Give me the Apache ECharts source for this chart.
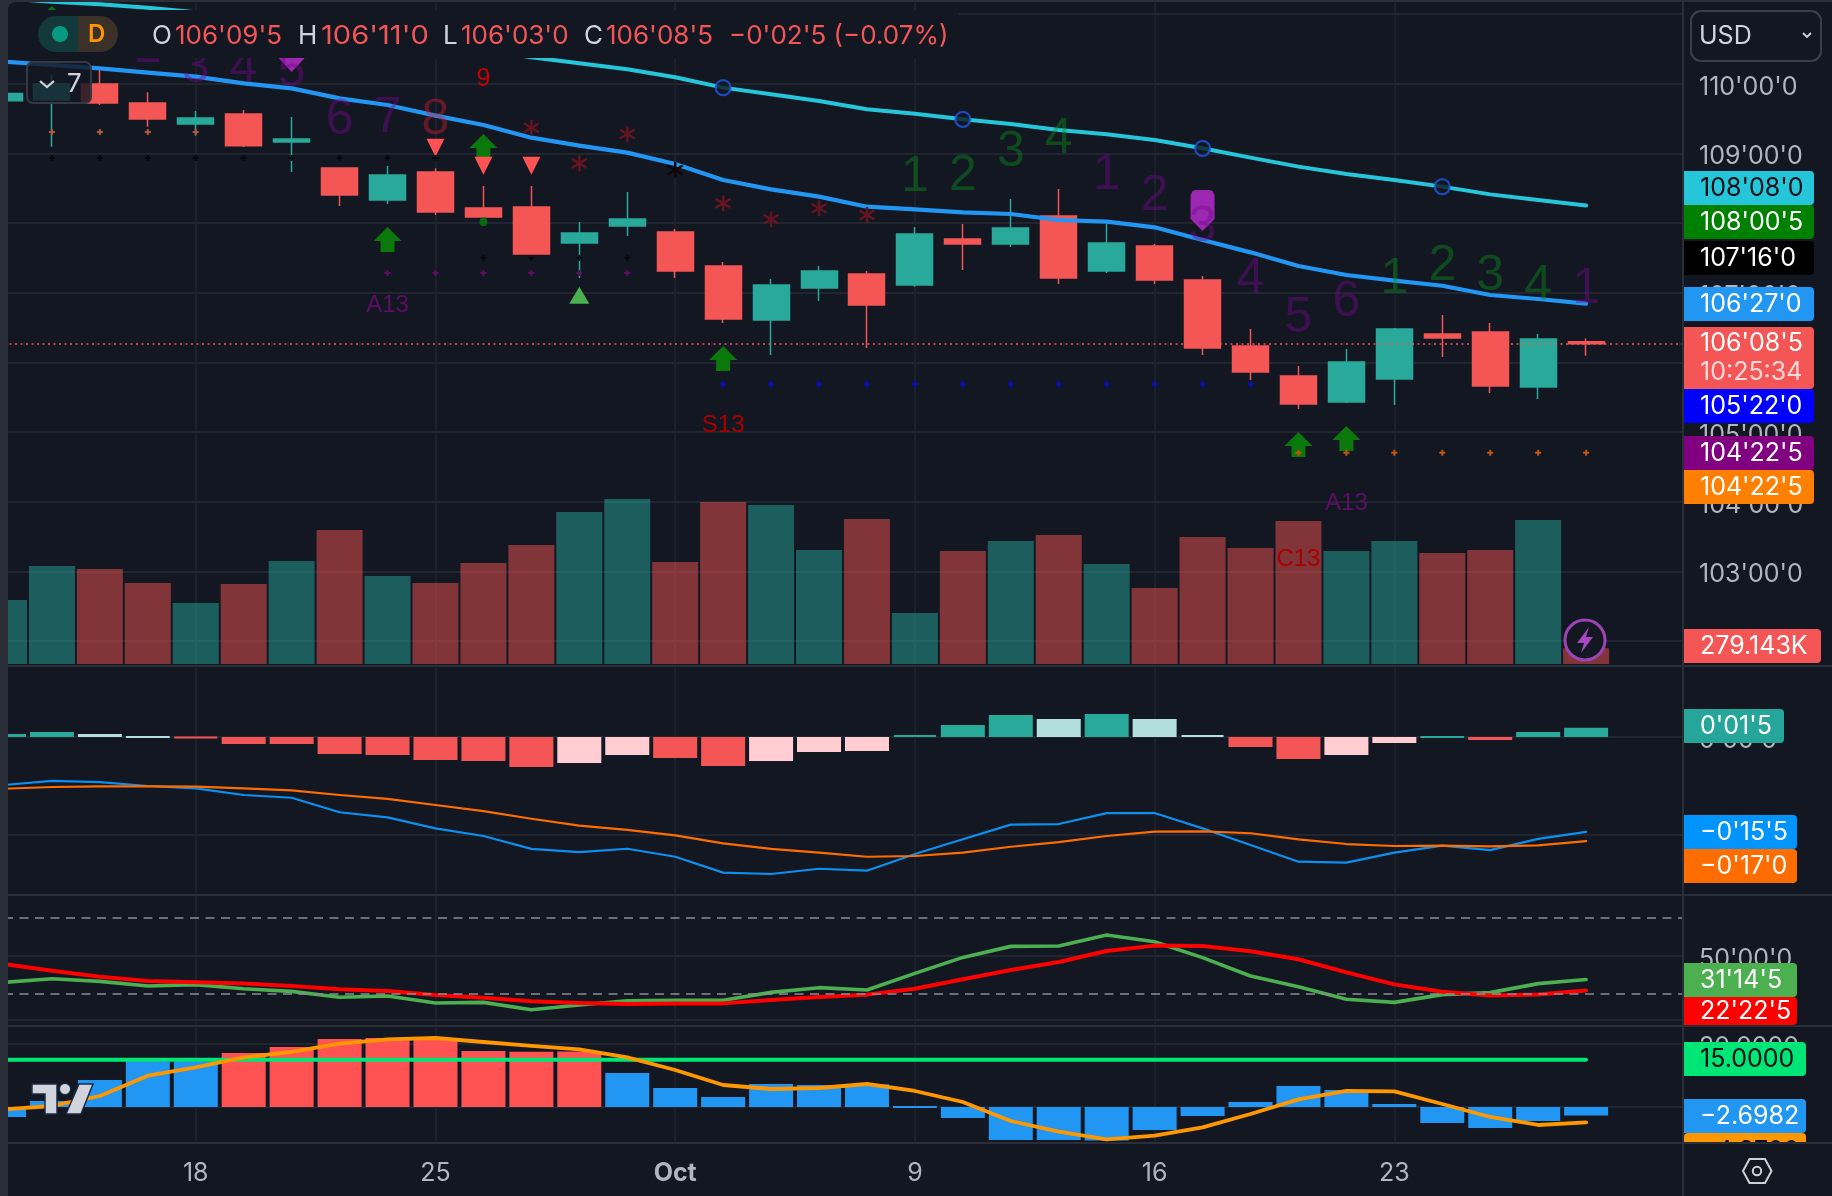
<!DOCTYPE html>
<html>
<head>
<meta charset="utf-8">
<title>Daily futures chart</title>
<style>
html,body{margin:0;padding:0;background:#121722;}
#chart{width:1832px;height:1196px;}
</style>
<script src="https://cdn.jsdelivr.net/npm/echarts@6/dist/echarts.min.js"></script>
</head>
<body>
<div id="chart"></div>
<script>
// Trading days, two blank slots keep room to the right of the last bar
const categories = ['Sep 12','Sep 13','Sep 14','Sep 15','Sep 18','Sep 19','Sep 20','Sep 21','Sep 22','Sep 25','Sep 26','Sep 27','Sep 28','Sep 29','Oct 2','Oct 3','Oct 4','Oct 5','Oct 6','Oct 9','Oct 10','Oct 11','Oct 12','Oct 13','Oct 16','Oct 17','Oct 18','Oct 19','Oct 20','Oct 23','Oct 24','Oct 25','Oct 26','Oct 27','Oct 30','Oct 31'];
const weekStarts = {'Sep 18':'18','Sep 25':'25','Oct 2':'Oct','Oct 9':'9','Oct 16':'16','Oct 23':'23'};

// OHLC
const opens = [109.756,109.766,109.995,109.722,109.421,109.565,109.163,108.789,108.33,108.732,108.215,108.23,107.713,107.957,107.871,107.383,106.608,107.067,107.268,107.11,107.77,107.699,108.1,107.311,107.67,107.182,106.234,105.804,105.431,105.761,106.407,106.435,105.646,106.297];
const highs = [109.9,110.12,110.22,109.876,109.608,109.622,109.522,108.8,108.818,108.785,108.531,108.531,108.014,108.445,107.914,107.44,107.196,107.383,107.311,107.943,107.986,108.344,108.488,107.986,107.699,107.239,106.478,105.947,106.191,106.493,106.679,106.565,106.407,106.344];
const lows = [109.7,109.096,109.694,109.383,109.254,109.091,108.732,108.244,108.273,108.115,108.005,107.483,107.211,107.813,107.211,106.565,106.105,106.88,106.206,107.086,107.325,107.656,107.124,107.282,107.124,106.105,105.746,105.33,105.416,105.388,106.077,105.56,105.474,106.094];
const closes = [109.86,110,109.722,109.493,109.507,109.11,109.206,108.402,108.689,108.158,108.086,107.555,107.856,108.057,107.311,106.622,107.11,107.311,106.823,107.842,107.699,107.928,107.211,107.713,107.182,106.206,105.861,105.402,106.005,106.478,106.349,105.66,106.335,106.266];

// Moving averages
const maUpper = [111.225,111.177,111.139,111.091,111.024,110.938,110.856,110.77,110.684,110.589,110.483,110.378,110.292,110.206,110.091,109.943,109.847,109.751,109.632,109.569,109.488,109.421,109.335,109.273,109.191,109.072,108.938,108.809,108.703,108.617,108.522,108.411,108.33,108.25];
const maLower = [110.316,110.268,110.22,110.158,110.1,110.005,109.933,109.789,109.694,109.541,109.407,109.225,109.11,109.01,108.847,108.617,108.483,108.378,108.234,108.196,108.153,108.129,108.043,108.019,107.938,107.756,107.579,107.383,107.254,107.172,107.1,106.967,106.909,106.844];
const maUpperCircles = [15,20,25,30];

// Volume, thousands
const volume = [1140,1746,1693,1443,1087,1426,1835,2388,1568,1443,1800,2121,2709,2940,1818,2887,2833,2031,2584,909,2014,2192,2299,1782,1354,2263,2067,2548,2014,2192,1978,2031,2566,279.143];

// MACD
const macdHist = [.015,.026,.015,.001,-.005,-.036,-.036,-.087,-.092,-.117,-.122,-.153,-.133,-.092,-.107,-.148,-.122,-.077,-.071,.01,.061,.112,.092,.117,.092,.01,-.051,-.112,-.092,-.031,.001,-.015,.026,.047];
const macdShade = 'TTttRRRRRRRRppRRpppTTTtTttRRppTRTT';
const macdLine = [-.245,-.224,-.23,-.25,-.262,-.296,-.31,-.384,-.41,-.466,-.505,-.571,-.587,-.57,-.611,-.692,-.699,-.672,-.682,-.597,-.522,-.447,-.444,-.388,-.388,-.466,-.551,-.636,-.641,-.59,-.554,-.577,-.52,-.484];
const macdSignal = [-.264,-.255,-.252,-.252,-.253,-.262,-.272,-.296,-.316,-.347,-.378,-.417,-.452,-.474,-.502,-.543,-.571,-.59,-.611,-.607,-.59,-.56,-.536,-.505,-.483,-.481,-.491,-.522,-.546,-.556,-.554,-.558,-.553,-.531];

// Stochastic
const stochK = [29.2,32.1,30,26.3,27.4,24.2,22.1,17.4,18.4,12.9,13.4,7.6,11.3,14.7,15,15,21.3,25,23.2,36.3,48.9,57.6,57.9,66.6,61.3,48.7,34.2,25.8,15.8,13.4,19.5,21.1,28.2,31.45];
const stochD = [43.7,38.4,33.7,30.3,29.2,28.2,26.3,23.7,22.4,19.2,17.1,14.2,12.9,12.1,12.6,12.6,15.3,17.6,19.5,24.2,31.6,38.9,45.3,53.9,58.2,57.9,53.7,47.4,37.1,27.6,21.8,18.9,19.7,22.703];
const stochBands = [80,20];

// Squeeze-style momentum pane
const momentumHist = [-3.17,1.9,8.57,14.5,14.5,17.1,19.05,21.6,21.9,21.9,17.8,17.5,17.6,10.8,6.03,3.17,7.3,7,7.2,.05,-3.49,-10.48,-10.5,-10.6,-7.3,-2.86,1.59,6.67,5.4,.95,-5.08,-6.67,-4.44,-2.6982];
const momentumLine = [-.74,.32,3.49,9.95,12.59,15.77,17.46,20.11,21.48,21.9,20.63,19.37,18.31,15.77,11.75,6.98,5.71,6.03,7.3,5.08,1.59,-4.44,-7.83,-10.26,-9.1,-6.46,-2.22,2.43,5.08,4.97,.95,-3.17,-5.71,-4.87];
const momentumLevel = 15;

// Axis ticks
const priceTicks = [111,110,109,108,107,106,105,104,103,102];
const priceLabelTicks = [110,109,108,107,106,105,104,103,102];
const macdTicks = [0,-.5];
const stochTicks = [50,0];
const stochLabelTicks = [50];
const momentumTicks = [20,0];

// Sequential count digits: [bar, price, digit]
const seqPurple = [[3,110.531,'2'],[4,110.244,'3'],[5,110.244,'4'],[6,110.196,'5'],[7,109.502,'6'],[8,109.536,'7'],[23,108.708,'1'],[24,108.416,'2'],[25,107.962,'3'],[26,107.215,'4'],[27,106.665,'5'],[28,106.885,'6'],[33,107.072,'1']];
const seqGreen = [[19,108.679,'1'],[20,108.703,'2'],[21,109.048,'3'],[22,109.225,'4'],[29,107.215,'1'],[30,107.411,'2'],[31,107.263,'3'],[32,107.12,'4']];
const seqDarkRed = [[9,109.502,'8']];
const seqNine = [[10,110.091,'9']];
const starsRed = [[11,109.368],[12,108.856],[13,109.278],[15,108.282],[16,108.053],[17,108.211],[18,108.115]];
const starsBlack = [[14,108.761]];
const countdownPurple = [[8,106.852,'A13'],[28,104,'A13']];
const countdownRed = [[15,105.124,'S13'],[27,103.2,'C13']];

// Signal markers: [bar, price]
const arrowsUp = [[1,110.928],[8,107.756],[10,109.091],[15,106.048],[27,104.813],[28,104.9]];
const trianglesDown = [[9,109.081],[10,108.823],[11,108.823]];
const triangleUp = [[12,106.957]];
const triangleDownPurple = [[6,110.268]];
const dotGreen = [[10,108.019]];
const flagPurple = [[25,107.885]];

// Stop-level dots: [bar, price]
const dotsOrangeHigh = [[1,109.306],[2,109.306],[3,109.306],[4,109.306]];
const dotsBlackHigh = [1,2,3,4,5,6,7,8,9].map(function(i){return [i,108.933];});
const dotsBlackLow = [10,11,12,13].map(function(i){return [i,107.5];});
const dotsPurple = [8,9,10,11,12,13].map(function(i){return [i,107.282];});
const dotsBlue = [15,16,17,18,19,20,21,22,23,24,25,26].map(function(i){return [i,105.6875];});
const dotsOrangeLow = [27,28,29,30,31,32,33].map(function(i){return [i,104.703];});

// Last price
const lastPrice = 106.266;

const BG = '#121722', GRID = '#21252f', EDGE = '#2a2e39', UP = '#29a99a', DOWN = '#f45656';
const UI = 'Inter, "Noto Sans", sans-serif', NUM = '"Liberation Sans", Arial, sans-serif';
const SCALE_SIZE = 25, HEAD_SIZE = 26;

function price32(v){
  const sign = v < 0 ? '\u2212' : '';
  const a = Math.abs(v) + 1e-9, whole = Math.floor(a), t = (a - whole) * 32;
  const n = Math.floor(t), d = Math.floor((t - n) * 10);
  return sign + whole + "'" + String(n).padStart(2,'0') + "'" + d;
}

// Pane layout
const left = 4, width = 1678;
const grids = [
  {left:left, width:width, top:2, height:664},
  {left:left, width:width, top:464, height:200},
  {left:left, width:width, top:667, height:228},
  {left:left, width:width, top:895, height:131},
  {left:left, width:width, top:1026, height:117}
];

function xAxis(i, labelled){
  return {
    type:'category', gridIndex:i, data:categories, boundaryGap:false,
    axisLine:{show:false}, axisTick:{show:false},
    splitLine:{show:i !== 1, lineStyle:{color:GRID, width:1.5},
      interval:function(idx, value){ return value in weekStarts; }},
    axisLabel:{show:labelled, interval:function(idx, value){ return value in weekStarts; },
      margin:18, fontFamily:UI, fontSize:SCALE_SIZE, color:'#b2b5be',
      formatter:function(value){ const t = weekStarts[value]; return t === 'Oct' ? '{b|Oct}' : t; },
      rich:{b:{fontFamily:UI, fontSize:SCALE_SIZE, fontWeight:700, color:'#b2b5be'}}}
  };
}

function yAxis(i, min, max, ticks, labels, fmt){
  return {
    type:'value', gridIndex:i, position:'right', min:min, max:max, scale:true,
    axisLine:{show:false},
    axisTick:{show:false, customValues:ticks},
    splitLine:{show:true, lineStyle:{color:GRID, width:2}},
    axisLabel:{show:!!labels, customValues:labels || [], margin:17,
      formatter:function(v){ return '{a|' + fmt(v) + '}'; },
      rich:{a:{padding:[7,0,0,0], fontFamily:UI, fontSize:SCALE_SIZE, color:'#b2b5be'}},
      fontFamily:UI, fontSize:SCALE_SIZE, color:'#b2b5be', showMinLabel:true, showMaxLabel:true}
  };
}

function lineSeries(name, data, color, w, xi, z){
  return {name:name, type:'line', data:data, xAxisIndex:xi, yAxisIndex:xi, symbol:'none', silent:true,
    lineStyle:{color:color, width:w, cap:'round', join:'round'}, z:z, animation:false};
}

function customSeries(name, data, z, draw){
  return {name:name, type:'custom', data:data, encode:{x:0, y:1}, xAxisIndex:0, yAxisIndex:0,
    silent:true, z:z, animation:false,
    renderItem:function(params, api){
      return draw(api.coord([data[params.dataIndex][0], data[params.dataIndex][1]]), data[params.dataIndex]);
    }};
}

function textMarks(name, data, color, size, z, dy){
  return customSeries(name, data, z, function(p, row){
    return {type:'text', style:{text:row[2], x:p[0], y:p[1] + (dy === undefined ? 2 : dy), align:'center', verticalAlign:'middle',
      fill:color, fontFamily:NUM, fontSize:size}};
  });
}

function starMarks(name, data, color){
  const arms = [[0,-8,0,8],[-7.5,-4.5,7.5,4.5],[-7.5,4.5,7.5,-4.5]];
  return customSeries(name, data, 5, function(p){
    return {type:'group', children:arms.map(function(a){
      return {type:'line', shape:{x1:p[0]+a[0], y1:p[1]+a[1], x2:p[0]+a[2], y2:p[1]+a[3]}, style:{stroke:color, lineWidth:2.4}};
    })};
  });
}

function polyMarks(name, data, color, pts, z){
  return customSeries(name, data, z, function(p){
    return {type:'polygon', shape:{points:pts.map(function(q){ return [p[0] + q[0], p[1] + q[1]]; })}, style:{fill:color}};
  });
}

function dotMarks(name, data, color){
  return customSeries(name, data, 5, function(p){
    return {type:'group', children:[
      {type:'line', shape:{x1:p[0]-3, y1:p[1], x2:p[0]+3, y2:p[1]}, style:{stroke:color, lineWidth:2}},
      {type:'line', shape:{x1:p[0], y1:p[1]-3, x2:p[0], y2:p[1]+3}, style:{stroke:color, lineWidth:2}}
    ]};
  });
}

const arrowShape = [[0,-13],[14,1],[7,1],[7,12],[-7,12],[-7,1],[-14,1]];
const flagShape = [[-12,-36],[-10,-40],[-7,-41],[7,-41],[10,-40],[12,-36],[12,-12],[0,0],[-12,-12]];
const shadeColor = {T:'#29a99a', t:'#b2dfdb', R:'#f45656', p:'#ffcdd2'};

const series = [
  {name:'Volume', type:'bar', xAxisIndex:1, yAxisIndex:1, barWidth:46, z:1, silent:true, animation:false,
    data:volume.map(function(v,i){ return {value:v, itemStyle:{color:closes[i] >= opens[i] ? 'rgba(38,166,154,0.5)' : 'rgba(239,83,80,0.5)'}}; })},
  {name:'Price', type:'candlestick', xAxisIndex:0, yAxisIndex:0, barWidth:36.5, z:3, silent:true, animation:false,
    data:opens.map(function(o,i){ return [o, closes[i], lows[i], highs[i]]; }),
    itemStyle:{color:UP, color0:DOWN, borderColor:UP, borderColor0:DOWN, borderWidth:1.5},
    markLine:{silent:true, symbol:['none','none'], animation:false, label:{show:false},
      lineStyle:{color:DOWN, type:[2,3.5], width:1.6}, data:[{yAxis:lastPrice}]}},
  lineSeries('Upper average', maUpper, '#26c6da', 4, 0, 4),
  lineSeries('Lower average', maLower, '#2196f3', 4.2, 0, 4),
  {name:'Upper average rolls', type:'scatter', xAxisIndex:0, yAxisIndex:0, silent:true, z:5, animation:false, symbolSize:15,
    data:maUpperCircles.map(function(i){ return [i, maUpper[i]]; }),
    itemStyle:{color:BG, borderColor:'#2156e6', borderWidth:2.2}},
  polyMarks('Flag', flagPurple, '#9c27b0', flagShape, 5),
  textMarks('Count purple', seqPurple, 'rgba(118,9,141,0.43)', 50, 6),
  textMarks('Count green', seqGreen, 'rgba(11,141,28,0.43)', 50, 6),
  textMarks('Count red', seqDarkRed, 'rgba(207,28,53,0.43)', 50, 6),
  textMarks('Nine', seqNine, '#c40000', 25, 5),
  textMarks('A13', countdownPurple, '#5d0f66', 24, 5),
  textMarks('S13 and C13', countdownRed, '#a80000', 24, 5),
  starMarks('Stars', starsRed, '#651420'),
  starMarks('Black star', starsBlack, '#140606'),
  polyMarks('Arrows', arrowsUp, '#0a780a', arrowShape, 5),
  polyMarks('Down triangles', trianglesDown, '#ff5252', [[-9,-9],[9,-9],[0,9]], 5),
  polyMarks('Up triangle', triangleUp, '#4caf50', [[0,-9],[10,8],[-10,8]], 5),
  polyMarks('Purple triangle', triangleDownPurple, '#9c27b0', [[-13,-7],[13,-7],[0,7]], 5),
  customSeries('Green dot', dotGreen, 5, function(p){
    return {type:'ellipse', shape:{cx:p[0], cy:p[1], rx:4, ry:4.5}, style:{fill:'#0a6a12'}};
  }),
  dotMarks('Stop orange high', dotsOrangeHigh, '#b4573d'),
  dotMarks('Stop black high', dotsBlackHigh, '#08090c'),
  dotMarks('Stop black low', dotsBlackLow, '#08090c'),
  dotMarks('Stop purple', dotsPurple, '#5d0f66'),
  dotMarks('Stop blue', dotsBlue, '#0a0ac8'),
  dotMarks('Stop orange low', dotsOrangeLow, '#c4560f'),

  {name:'MACD histogram', type:'bar', xAxisIndex:2, yAxisIndex:2, barWidth:44, z:2, silent:true, animation:false,
    data:macdHist.map(function(v,i){ const c = shadeColor[macdShade[i]]; return {value:v, itemStyle:{color:c, borderColor:c, borderWidth:2}}; })},
  lineSeries('MACD', macdLine, '#0c90f0', 2.2, 2, 3),
  lineSeries('Signal', macdSignal, '#ff6d00', 2.2, 2, 4),

  Object.assign(lineSeries('%K', stochK, '#4caf50', 3.6, 3, 3), {
    markLine:{silent:true, symbol:['none','none'], animation:false, label:{show:false},
      lineStyle:{color:'#8a8d94', type:[9,6.5], width:1.5},
      data:stochBands.map(function(v){ return {yAxis:v}; })}}),
  lineSeries('%D', stochD, '#ff0000', 4, 3, 4),

  {name:'Momentum', type:'bar', xAxisIndex:4, yAxisIndex:4, barWidth:44, z:2, silent:true, animation:false,
    data:momentumHist.map(function(v){ const c = v > momentumLevel ? '#ff5252' : '#2196f3'; return {value:v, itemStyle:{color:c, borderColor:c, borderWidth:2}}; })},
  lineSeries('Level', momentumHist.map(function(){ return momentumLevel; }), '#00e676', 3.8, 4, 3),
  lineSeries('Momentum average', momentumLine, '#ff9800', 3.8, 4, 4)
];

// Scale tags along the right edge: text, top, height, right edge, fill, ink
const scaleTags = [
  ["108'08'0",171,34,1814,'#26c6da','#0b0e14'],
  ["108'00'5",205,34,1814,'#008000','#ffffff'],
  ["107'16'0",241,34,1814,'#000000','#ffffff'],
  ["106'27'0",287,34,1814,'#2196f3','#ffffff'],
  ["105'22'0",389,34,1814,'#0000ff','#ffffff'],
  ["104'22'5",436,34,1814,'#800080','#ffffff'],
  ["104'22'5",470,34,1814,'#ff7f00','#ffffff'],
  ["279.143K",629,34,1821,DOWN,'#ffffff'],
  ["0'01'5",709,34,1784,'#26a69a','#ffffff'],
  ["\u22120'15'5",815,34,1797,'#0094ff','#ffffff'],
  ["\u22120'17'0",849,34,1797,'#ff6d00','#ffffff'],
  ["31'14'5",963,34,1797,'#4caf50','#ffffff'],
  ["22'22'5",997,28,1797,'#ff0000','#ffffff'],
  ["15.0000",1042,34,1806,'#00e676','#0b0e14'],
  ["\u22122.6982",1099,34,1806,'#2196f3','#ffffff']
];

function txt(text, x, y, fill, size, z, extra, el){
  return Object.assign({type:'text', z:z || 100, silent:true,
    style:Object.assign({text:text, x:x, y:y, fill:fill, fontFamily:UI, fontSize:size, align:'left', verticalAlign:'middle'}, extra || {})}, el || {});
}
function rect(x, y, w, h, fill, z, r, stroke){
  return {type:'rect', z:z || 100, silent:true, shape:{x:x, y:y, width:w, height:h, r:r || 0},
    style:{fill:fill, stroke:stroke || null, lineWidth:stroke ? 2 : 0}};
}
const settingsHex = {type:'polygon', z:104, silent:true, shape:{points:[[1743,1171],[1749.5,1159],[1765,1159],[1771.5,1171],[1765,1183],[1749.5,1183]]}, style:{fill:null, stroke:'#cdd0d7', lineWidth:2}};
const settingsHub = {type:'circle', z:104, silent:true, shape:{cx:1757, cy:1171, r:4.2}, style:{fill:null, stroke:'#cdd0d7', lineWidth:2}};

const graphics = [
  // Frame, rounded pane corner and scale column
  rect(8,2,10,10,EDGE,89),
  rect(8,2,20,20,BG,89.5,8),
  rect(0,0,8,1196,EDGE,90),
  rect(0,0,1832,2,EDGE,90),
  rect(1682,0,2,1196,EDGE,90),
  rect(8,665,1832,2,EDGE,90),
  rect(8,894,1832,2,EDGE,90),
  rect(8,1025,1832,2,EDGE,90),

  // Legend strip
  rect(8,10,951,48,BG,95),
  rect(38,16,40,36,'#123a3a',96,[18,0,0,18]),
  rect(78,16,40,36,'#3c3128',96,[0,18,18,0]),
  {type:'ellipse', z:97, silent:true, shape:{cx:60, cy:34, rx:8, ry:8}, style:{fill:'#089981'}},
  txt('D',88,35,'#ff9800',24,97,{fontWeight:600}),
  txt('O',152,36,'#d1d4dc',HEAD_SIZE), txt("106'09'5",175,36,DOWN,HEAD_SIZE),
  txt('H',298,36,'#d1d4dc',HEAD_SIZE), txt("106'11'0",321,36,DOWN,HEAD_SIZE,null,null,{originX:321, scaleX:1.12}),
  txt('L',443,36,'#d1d4dc',HEAD_SIZE), txt("106'03'0",461,36,DOWN,HEAD_SIZE),
  txt('C',584,36,'#d1d4dc',HEAD_SIZE), txt("106'08'5",606,36,DOWN,HEAD_SIZE),
  txt("\u22120'02'5 (\u22120.07%)",729,36,DOWN,HEAD_SIZE),

  // Collapsed indicators button
  {type:'rect', z:95, silent:true, shape:{x:27,y:62,width:64,height:41,r:6}, style:{fill:'rgba(19,23,34,0.82)', stroke:'#343944', lineWidth:2}},
  {type:'polyline', z:96, silent:true, shape:{points:[[40,81],[47,87],[54,81]]}, style:{stroke:'#d1d4dc', lineWidth:2.2, fill:null}},
  txt('7',67,84,'#d1d4dc',26,96),

  // Currency selector
  rect(1691,11,130,50,BG,95,10,'#3a3e49'),
  txt('USD',1699,36,'#d1d4dc',SCALE_SIZE,96),
  {type:'polyline', z:96, silent:true, shape:{points:[[1803,33],[1807,37],[1811,33]]}, style:{stroke:'#d1d4dc', lineWidth:1.8, fill:null}},

  // Replay badge on the last volume bar
  {type:'circle', z:60, silent:true, shape:{cx:1585, cy:640, r:20}, style:{fill:BG, stroke:'#9c44b5', lineWidth:3}},
  {type:'polygon', z:61, silent:true, shape:{points:[[1589,627],[1577,643],[1584,643],[1581,653],[1593,637],[1586,637]]}, style:{fill:'#a848c0'}},

  // Watermark logo
  {type:'polygon', z:60, silent:true, shape:{points:[[32,1084],[57,1084],[57,1114],[45,1114],[45,1094],[32,1094]]}, style:{fill:'#d1d4dc', stroke:'#1b2b45', lineWidth:1.5}},
  {type:'circle', z:60, silent:true, shape:{cx:65, cy:1089, r:5.5}, style:{fill:'#d1d4dc', stroke:'#1b2b45', lineWidth:1}},
  {type:'polygon', z:60, silent:true, shape:{points:[[79,1084],[93,1084],[81,1114],[66,1114]]}, style:{fill:'#d1d4dc', stroke:'#1b2b45', lineWidth:1.5}}
];

scaleTags.forEach(function(t){
  graphics.push({type:'rect', z:100, silent:true, shape:{x:1684, y:t[1], width:t[3]-1684, height:t[2], r:[0,4,4,0]}, style:{fill:t[4]}});
  graphics.push(txt(t[0],1700,t[1]+t[2]/2,t[5],SCALE_SIZE,101));
});
// Last price tag with countdown
graphics.push({type:'rect', z:100, silent:true, shape:{x:1684,y:327,width:130,height:62,r:[0,4,4,0]}, style:{fill:DOWN}});
graphics.push(txt("106'08'5",1700,343,'#ffffff',SCALE_SIZE,101));
graphics.push(txt('10:25:34',1700,372,'#ffd9d9',SCALE_SIZE,101));
// Tag cut off by the bottom of the last pane
graphics.push({type:'rect', z:100, silent:true, shape:{x:1684,y:1133,width:122,height:34,r:[4,4,0,0]}, style:{fill:'#ff9800'}});
graphics.push(txt('\u22124.8700',1700,1151,'#0b0e14',SCALE_SIZE,101));
graphics.push(rect(1684,1144,148,52,BG,102));
graphics.push(rect(8,1142,1832,2,EDGE,103));
graphics.push(rect(1682,1142,2,54,EDGE,103));
graphics.push(settingsHex);
graphics.push(settingsHub);

const chart = echarts.init(document.getElementById('chart'), null, {renderer:'canvas'});
chart.setOption({
  backgroundColor:BG,
  animation:false,
  tooltip:{show:false},
  grid:grids,
  xAxis:[xAxis(0,false), xAxis(1,false), xAxis(2,false), xAxis(3,false), xAxis(4,true)],
  yAxis:[
    yAxis(0, 101.642, 111.172, priceTicks, priceLabelTicks, price32),
    Object.assign(yAxis(1, 0, 3564, [], null, String), {splitLine:{show:false}, axisTick:{show:false}}),
    yAxis(2, -.806, .357, macdTicks, macdTicks, price32),
    yAxis(3, -5.26, 98.16, stochTicks, stochLabelTicks, price32),
    yAxis(4, -11.43, 25.71, momentumTicks, momentumTicks, function(v){ return v.toFixed(4); })
  ],
  series:series,
  graphic:{elements:graphics}
});
</script>
</body>
</html>
